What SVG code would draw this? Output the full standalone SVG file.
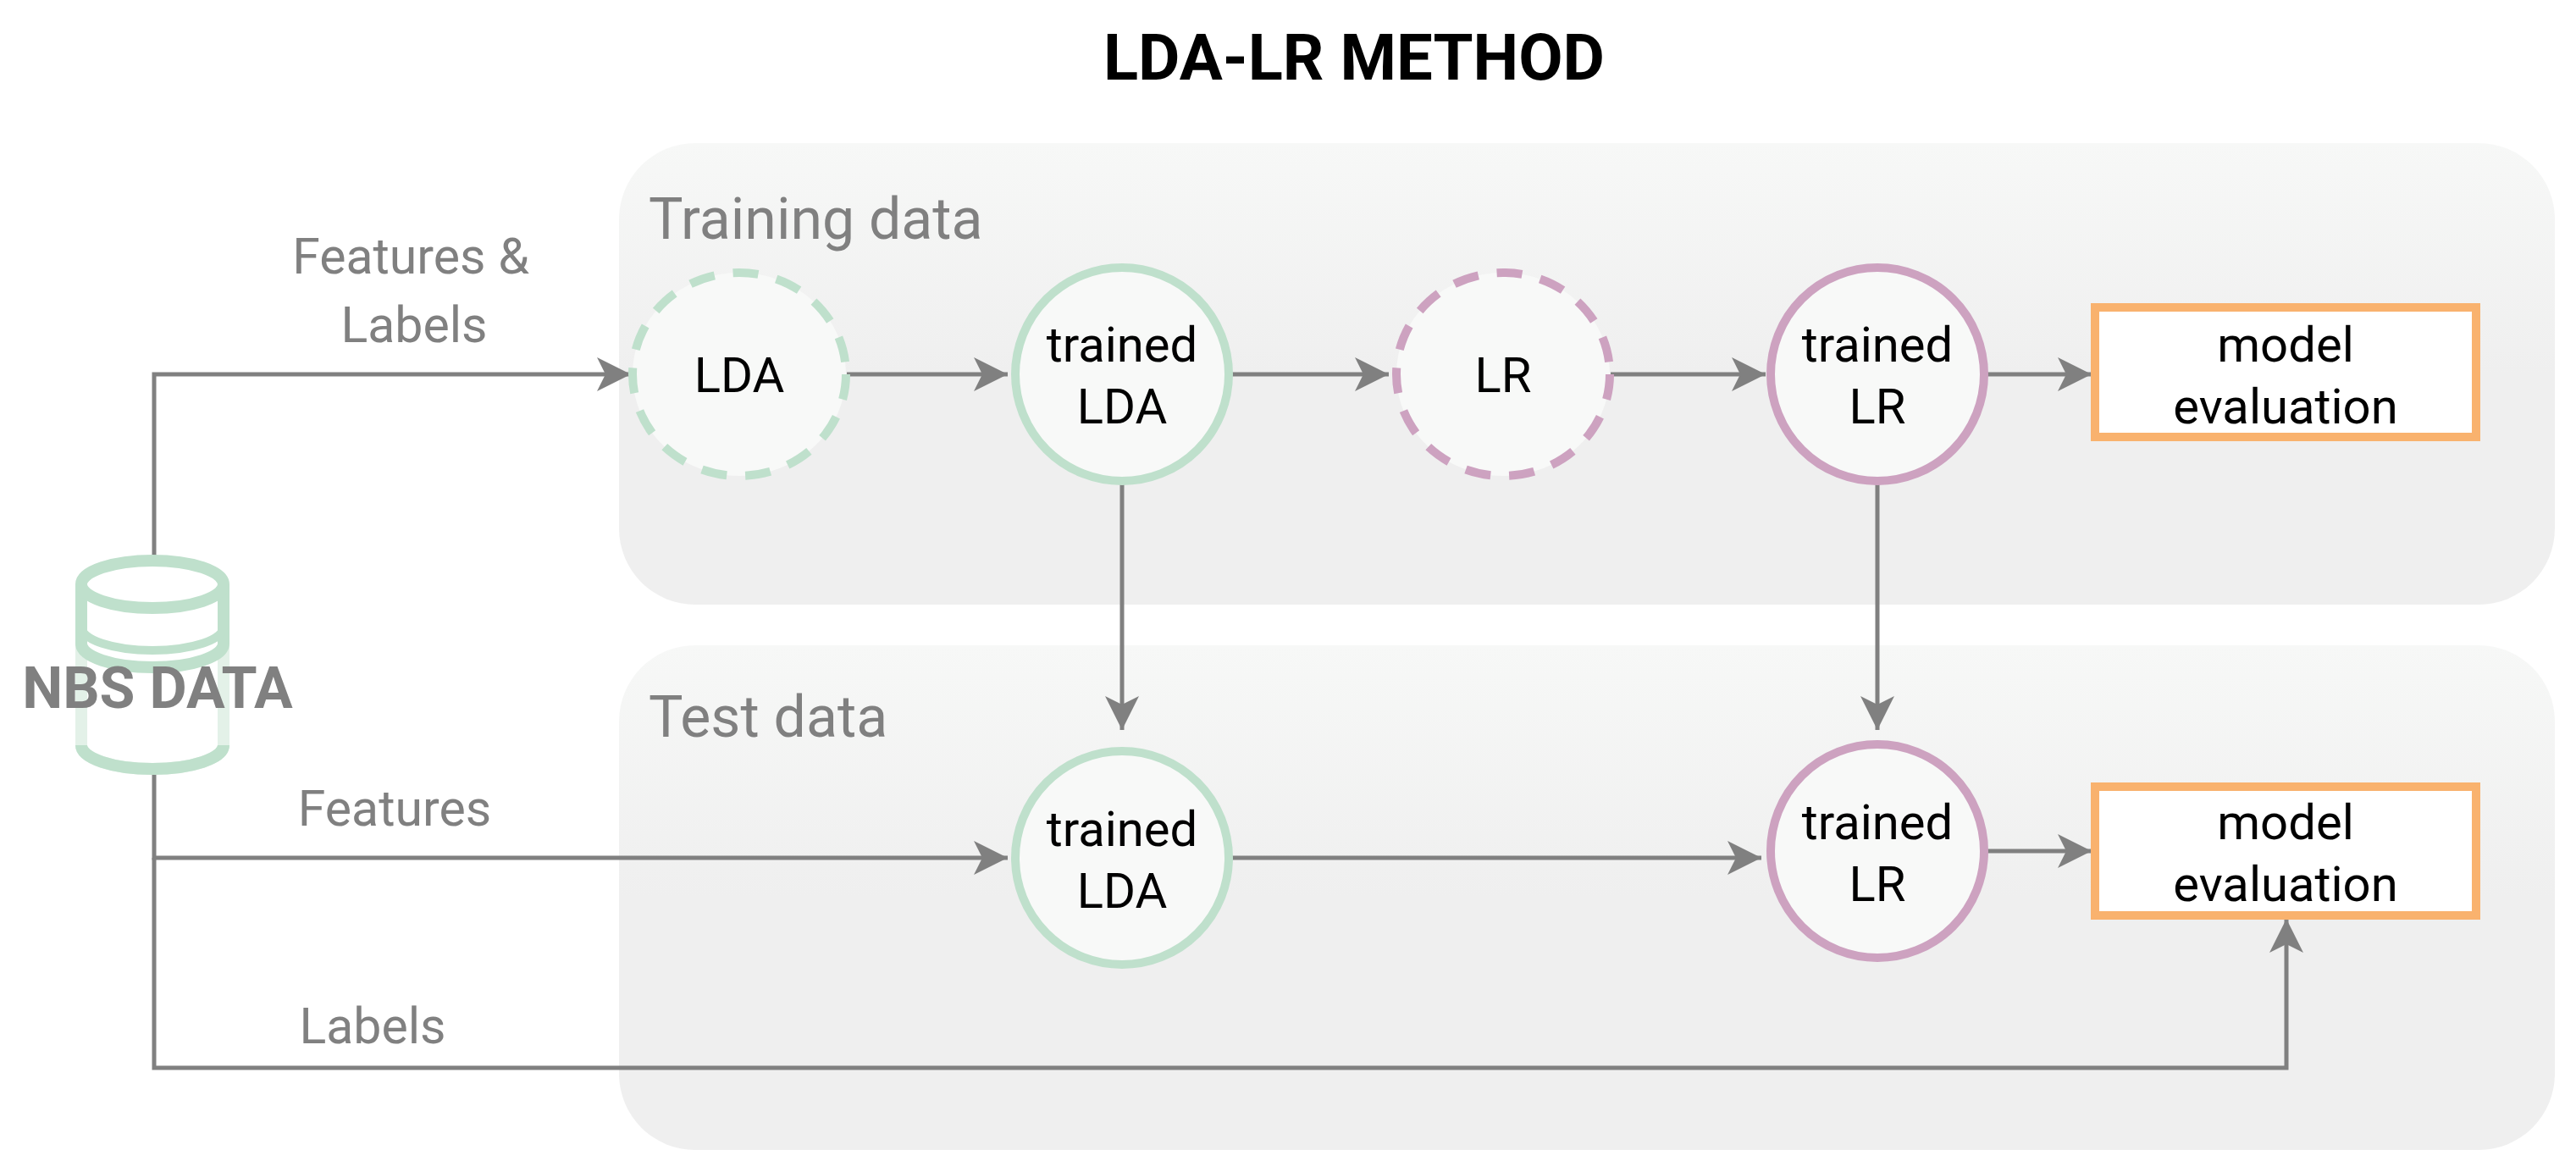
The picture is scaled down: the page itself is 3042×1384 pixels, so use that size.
<svg xmlns="http://www.w3.org/2000/svg" width="3042" height="1384" viewBox="0 0 3042 1384">
<defs>
<linearGradient id="pg" x1="0" y1="0" x2="0" y2="1"><stop offset="0" stop-color="#f7f8f7"/><stop offset="0.5" stop-color="#efefef"/><stop offset="1" stop-color="#efefef"/></linearGradient>
<marker id="ar" markerUnits="userSpaceOnUse" markerWidth="50" markerHeight="50" viewBox="0 0 50 50" refX="44" refY="25" orient="auto"><path d="M4,5 L44,25 L4,45 L14,25 Z" fill="#808080"/></marker>
</defs>
<style>
.panel{fill:url(#pg)}
.plabel{font-family:Roboto,"Liberation Sans",sans-serif;font-size:68px;fill:#808080}
.elabel{font-family:Roboto,"Liberation Sans",sans-serif;font-size:59px;fill:#808080;text-anchor:middle}
.nt{font-family:Roboto,"Liberation Sans",sans-serif;font-size:58px;fill:#000;text-anchor:middle}
.green{fill:#f8f9f8;stroke:#bfe0cc;stroke-width:10}
.purple{fill:#f8f9f8;stroke:#cda2c0;stroke-width:10}
.dash{stroke-dasharray:30 22}
.box{fill:#fff;stroke:#f9b26e;stroke-width:10}
.c{fill:none;stroke:#808080;stroke-width:5;marker-end:url(#ar)}
</style>
<rect width="3042" height="1384" fill="#fff"/>
<text x="1599" y="94" text-anchor="middle" font-family="Roboto,'Liberation Sans',sans-serif" font-weight="bold" font-size="76" fill="#000">LDA-LR METHOD</text>
<g id="training"><rect class="panel" x="731" y="169" width="2286" height="545" rx="90"/><text class="plabel" x="766" y="282">Training data</text></g>
<g id="test"><rect class="panel" x="731" y="762" width="2286" height="596" rx="90"/><text class="plabel" x="766" y="870">Test data</text></g>
<g id="connectors">
<path class="c" d="M182,660 V442 H745"/>
<path class="c" d="M1000,442 H1190"/>
<path class="c" d="M1454,442 H1640"/>
<path class="c" d="M1902,442 H2085"/>
<path class="c" d="M2346,442 H2470"/>
<path class="c" d="M1325,570 V862"/>
<path class="c" d="M2217,570 V862"/>
<path class="c" d="M182,912 V1013 H1190"/>
<path class="c" d="M1454,1013 H2080"/>
<path class="c" d="M2346,1005 H2470"/>
<path class="c" d="M182,1013 V1261 H2700 V1085"/>
</g>
<g id="edge-labels">
<text class="elabel" x="485" y="323">Features &amp;</text>
<text class="elabel" x="489" y="404">Labels</text>
<text class="elabel" x="466" y="975">Features</text>
<text class="elabel" x="440" y="1232">Labels</text>
</g>
<g id="nbs">
<path d="M96,690 V880 A84,28 0 0 0 264,880 V690" fill="#fff" stroke="#e3f1e8" stroke-width="14"/>
<path d="M96,690 V760 A84,28 0 0 0 264,760 V690" fill="none" stroke="#bfe0cc" stroke-width="14"/>
<path d="M96,740 A84,28 0 0 0 264,740" fill="none" stroke="#bfe0cc" stroke-width="10"/>
<path d="M96,880 A84,28 0 0 0 264,880" fill="none" stroke="#bfe0cc" stroke-width="14"/>
<ellipse cx="180" cy="690" rx="84" ry="28" fill="#fff" stroke="#bfe0cc" stroke-width="14"/>
<text x="186" y="836" text-anchor="middle" font-family="Roboto,'Liberation Sans',sans-serif" font-weight="bold" font-size="68" fill="#808080">NBS DATA</text>
</g>
<g id="lda"><ellipse class="green dash" cx="873" cy="442" rx="126" ry="120"/><text class="nt" x="873" y="463">LDA</text></g>
<g id="trained-lda"><ellipse class="green" cx="1325" cy="442" rx="126" ry="126"/><text class="nt" x="1325" y="427">trained</text><text class="nt" x="1325" y="500">LDA</text></g>
<g id="lr"><ellipse class="purple dash" cx="1775" cy="442" rx="126" ry="120"/><text class="nt" x="1775" y="463">LR</text></g>
<g id="trained-lr"><ellipse class="purple" cx="2217" cy="442" rx="126" ry="126"/><text class="nt" x="2217" y="427">trained</text><text class="nt" x="2217" y="500">LR</text></g>
<g id="eval1"><rect class="box" x="2474" y="363" width="450" height="153"/><text class="nt" x="2699" y="427">model</text><text class="nt" x="2699" y="500">evaluation</text></g>
<g id="test-trained-lda"><ellipse class="green" cx="1325" cy="1013" rx="126" ry="126"/><text class="nt" x="1325" y="999">trained</text><text class="nt" x="1325" y="1072">LDA</text></g>
<g id="test-trained-lr"><ellipse class="purple" cx="2217" cy="1005" rx="126" ry="126"/><text class="nt" x="2217" y="991">trained</text><text class="nt" x="2217" y="1064">LR</text></g>
<g id="eval2"><rect class="box" x="2474" y="929" width="450" height="152"/><text class="nt" x="2699" y="991">model</text><text class="nt" x="2699" y="1064">evaluation</text></g>
</svg>
